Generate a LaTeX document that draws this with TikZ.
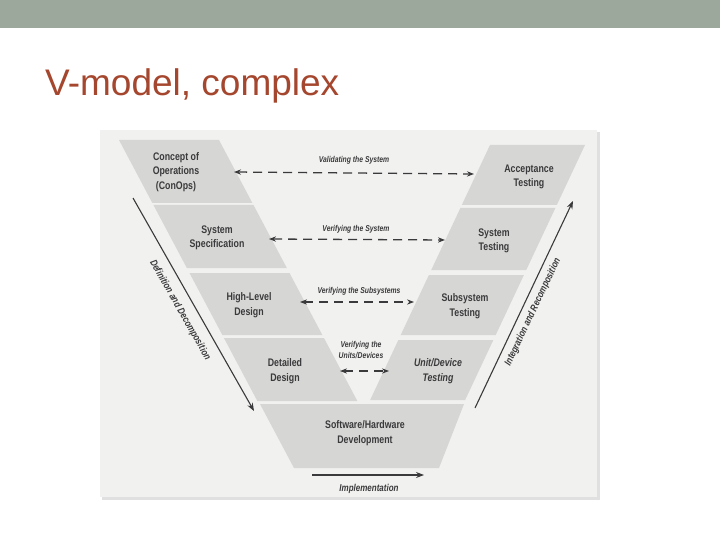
\documentclass[tikz,border=0pt]{standalone}
\usepackage{fontspec}
\setmainfont{Liberation Sans}
\newfontfamily\cond[FakeStretch=0.8]{Liberation Sans}
\usetikzlibrary{arrows.meta}
\definecolor{barc}{HTML}{9BA89B}
\definecolor{titlec}{HTML}{A5462E}
\definecolor{photo}{HTML}{F1F1EF}
\definecolor{band}{HTML}{D6D6D4}
\definecolor{ink}{HTML}{3A3A3C}
\begin{document}
\begin{tikzpicture}[x=1pt,y=-1pt,
  lbl/.style={font=\cond\bfseries\fontsize{11}{14.5}\selectfont, text=ink, align=center},
  arrcap/.style={font=\cond\bfseries\itshape\fontsize{8.5}{11}\selectfont, text=ink, align=center},
  side/.style={font=\cond\bfseries\itshape\fontsize{10}{12}\selectfont, text=ink},
  dash2/.style={draw=ink, line width=1.3pt, dash pattern=on 9pt off 6pt, {Stealth[length=7pt]}-{Stealth[length=7pt]}},
  solidarr/.style={draw=ink, line width=1.1pt, -{Stealth[length=8pt]}},
  bandfill/.style={fill=band}]
\useasboundingbox (0,0) rectangle (720,540);
\fill[white] (0,0) rectangle (720,540);
\fill[barc] (0,0) rectangle (720,28);
\node[anchor=base west, inner sep=0pt, font=\fontsize{37}{42}\selectfont, text=titlec] (title) at (45,96) {V-model, complex};
% photo
\fill[black!12] (102,132) rectangle (600,500);
\fill[photo] (100,130) rectangle (597,497);
% left bands
\foreach \t/\b in {140/203,205/268,273/335,338/401}{
  \fill[bandfill] ({119+0.53*(\t-140)},\t) -- ({219+0.53*(\t-140)},\t) -- ({219+0.53*(\b-140)},\b) -- ({119+0.53*(\b-140)},\b) -- cycle;}
% right bands
\foreach \t/\b in {145/205,208/270,275/335,340/400}{
  \fill[bandfill] ({585-0.47*(\t-145)},\t) -- ({490-0.47*(\t-145)},\t) -- ({490-0.47*(\b-145)},\b) -- ({585-0.47*(\b-145)},\b) -- cycle;}
% bottom
\fill[bandfill] (260,404) -- (464,404) -- (439,468) -- (294,468) -- cycle;
% labels
\node[lbl] (conops) at (176,172) {Concept of\\Operations\\(ConOps)};
\node[lbl] (accept) at (529,177) {Acceptance\\Testing};
\node[lbl] (sysspec) at (217,238) {System\\Specification};
\node[lbl] (systest) at (494,241) {System\\Testing};
\node[lbl] (hld) at (249,305) {High-Level\\Design};
\node[lbl] (subtest) at (465,306) {Subsystem\\Testing};
\node[lbl] (dd) at (285,371) {Detailed\\Design};
\node[lbl, font=\cond\bfseries\itshape\fontsize{11}{14.5}\selectfont] (unit) at (438,371) {Unit/Device\\Testing};
\node[lbl] (swhw) at (365,433) {Software/Hardware\\Development};
% dashed arrows
\coordinate (a1) at (234,172); \coordinate (b1) at (474,174);
\coordinate (a2) at (269,239); \coordinate (b2) at (445,240);
\coordinate (a3) at (300,302); \coordinate (b3) at (414,302);
\coordinate (a4) at (340,371); \coordinate (b4) at (389,371);
\draw[dash2] (a1) -- (b1);
\draw[dash2] (a2) -- (b2);
\draw[dash2] (a3) -- (b3);
\draw[dash2] (a4) -- (b4);
\node[arrcap] (c1) at (354,160) {Validating the System};
\node[arrcap] (c2) at (356,229) {Verifying the System};
\node[arrcap] (c3) at (359,291) {Verifying the Subsystems};
\node[arrcap] (c4) at (361,350) {Verifying the\\Units/Devices};
% side arrows
\coordinate (l1) at (133,198); \coordinate (l2) at (254,411);
\draw[solidarr] (l1) -- (l2);
\node[side, rotate=-60.4] (defn) at (180,310) {Definition and Decomposition};
\coordinate (r1) at (475,408); \coordinate (r2) at (573,201);
\draw[solidarr] (r1) -- (r2);
\node[side, rotate=64.7] (integ) at (533,312) {Integration and Recomposition};
\coordinate (i1) at (312,475); \coordinate (i2) at (424,475);
\draw[solidarr] (i1) -- (i2);
\node[side] (impl) at (369,489) {Implementation};
\end{tikzpicture}
\end{document}
